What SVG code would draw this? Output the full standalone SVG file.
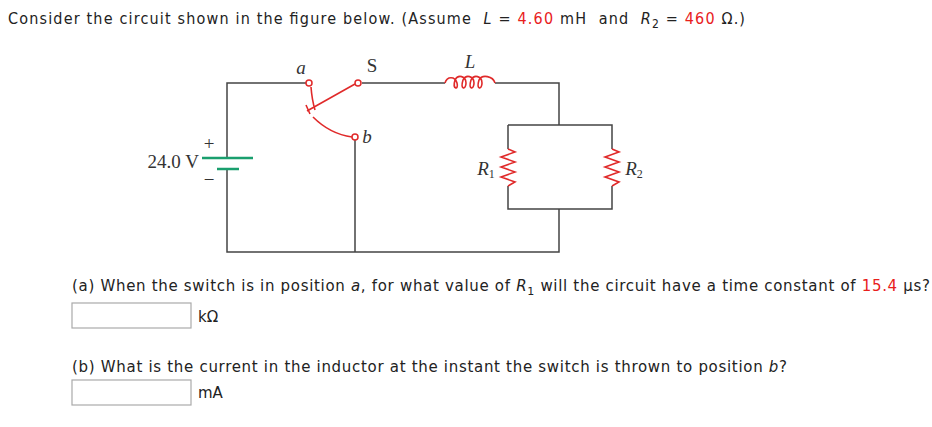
<svg xmlns="http://www.w3.org/2000/svg" width="932" height="427" viewBox="0 0 932 427">
<style>
.t{font-family:"DejaVu Sans Condensed","DejaVu Sans",sans-serif;font-size:16px;fill:#222}
.q{font-family:"DejaVu Sans",sans-serif;font-size:15px;fill:#222}
.r{fill:#e8201c}
.lbl{font-family:"Liberation Serif",serif;font-size:19px;fill:#333}
.w{stroke:#444;stroke-width:1.5;fill:none}
.red{stroke:#e02a2a;stroke-width:1.6;fill:none}
.box{fill:#fff;stroke:#aaa;stroke-width:1.2}
</style>
<rect width="932" height="427" fill="#fff"/>
<text class="t" x="8" y="24" xml:space="preserve" textLength="737" lengthAdjust="spacing">Consider the circuit shown in the figure below. (Assume  <tspan font-style="italic">L</tspan> = <tspan class="r">4.60</tspan> mH  and  <tspan font-style="italic">R</tspan><tspan font-size="12" dy="4">2</tspan><tspan dy="-4"> = </tspan><tspan class="r">460</tspan> Ω.)</text>
<g id="wires">
<path class="w" d="M309,83 H227 V158 M227,169 V252 H559 V209 M355,139 V252 M362,83 H445 M495,83 H559 V125 M508,125 H612 V149 M612,186 V209 H508 V186 M508,149 V125"/>
</g>
<g id="battery">
<line x1="202" y1="158" x2="253" y2="158" stroke="#1a9f6e" stroke-width="2.5"/>
<line x1="217" y1="169" x2="239" y2="169" stroke="#1a9f6e" stroke-width="2.5"/>
<text class="lbl" x="209" y="150" text-anchor="middle">+</text>
<text class="lbl" x="209" y="186" text-anchor="middle">−</text>
<text class="lbl" x="199" y="168" text-anchor="end">24.0 V</text>
</g>
<g id="switch">
<path class="red" d="M355,84 L307,111 M311,87 Q312,100 315,110 M313,117 Q330,134 352,137 M306,105 L310,114"/>
<circle cx="309" cy="83" r="3" fill="#fff" stroke="#e02a2a" stroke-width="1.5"/>
<circle cx="358" cy="83" r="3" fill="#fff" stroke="#e02a2a" stroke-width="1.5"/>
<circle cx="355" cy="137" r="3" fill="#fff" stroke="#e02a2a" stroke-width="1.5"/>
<text class="lbl" x="301" y="74" font-style="italic" text-anchor="middle">a</text>
<text class="lbl" x="372" y="72" text-anchor="middle">S</text>
<text class="lbl" x="367" y="143" font-style="italic" text-anchor="middle">b</text>
</g>
<g id="inductor">
<path class="red" d="M445,83 C447,76 455,76 457,83 C459,90 452,90 455,80 C458,74 466,76 466,83 C466,90 460,90 463,80 C466,74 474,76 474,83 C474,90 468,90 471,80 C474,74 482,76 482,83 C482,90 476,90 479,80 C482,74 493,76 495,83"/>
<text class="lbl" x="470" y="68" font-style="italic" text-anchor="middle">L</text>
</g>
<g id="R1">
<path class="red" d="M508,149 L515,152 L501,157 L515,162 L501,167 L515,172 L501,177 L515,182 L508,186"/>
<text class="lbl" x="486" y="175" font-style="italic" text-anchor="middle">R<tspan font-size="12" dy="3" font-style="normal">1</tspan></text>
</g>
<g id="R2">
<path class="red" d="M612,149 L619,152 L605,157 L619,162 L605,167 L619,172 L605,177 L619,182 L612,186"/>
<text class="lbl" x="634" y="175" font-style="italic" text-anchor="middle">R<tspan font-size="12" dy="3" font-style="normal">2</tspan></text>
</g>
<text class="q" x="72" y="291" textLength="858" lengthAdjust="spacing">(a) When the switch is in position <tspan font-style="italic">a</tspan>, for what value of <tspan font-style="italic">R</tspan><tspan font-size="11" dy="4">1</tspan><tspan dy="-4"> will the circuit have a time constant of </tspan><tspan class="r">15.4</tspan> μs?</text>
<rect class="box" x="72" y="303" width="119" height="25"/>
<text class="q" x="198" y="322">kΩ</text>
<text class="q" x="72" y="372" textLength="715" lengthAdjust="spacing">(b) What is the current in the inductor at the instant the switch is thrown to position <tspan font-style="italic">b</tspan>?</text>
<rect class="box" x="72" y="380" width="119" height="25"/>
<text class="q" x="198" y="398">mA</text>
</svg>
